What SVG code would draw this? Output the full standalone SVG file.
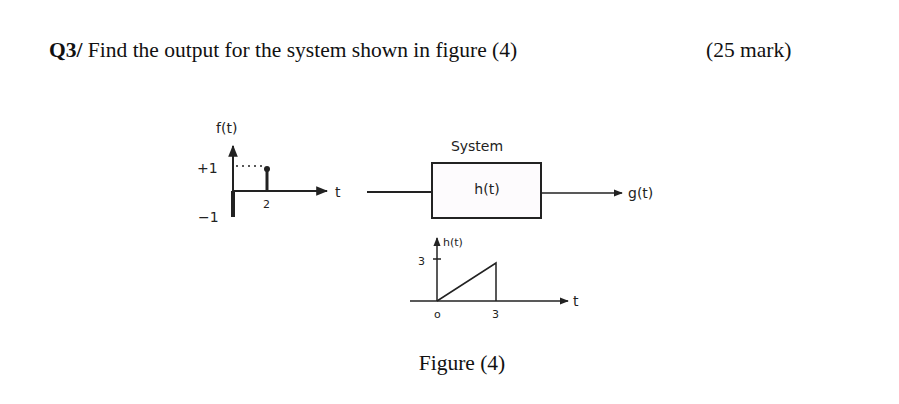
<svg xmlns="http://www.w3.org/2000/svg" width="899" height="404" viewBox="0 0 899 404">
<defs>
<style>
.t{font-family:"Liberation Serif",serif;font-size:21.5px;fill:#111}
.h{font-family:"DejaVu Sans",sans-serif;font-size:14px;fill:#222}
.s{font-family:"DejaVu Sans",sans-serif;font-size:11px;fill:#222}
.l{stroke:#222;stroke-width:2;fill:none}
</style>
<marker id="a" viewBox="0 0 10 10" refX="9" refY="5" markerWidth="6" markerHeight="6" orient="auto"><path d="M0,1L10,5L0,9z" fill="#222"/></marker>
</defs>
<rect width="899" height="404" fill="#fff"/>
<text class="t" x="49" y="57"><tspan font-weight="bold">Q3/</tspan> Find the output for the system shown in figure (4)</text>
<text class="t" x="706" y="57">(25 mark)</text>
<g id="ft">
<line class="l" x1="233" y1="217" x2="233" y2="146" marker-end="url(#a)"/>
<line class="l" x1="233" y1="191" x2="327" y2="191" marker-end="url(#a)"/>
<line x1="236" y1="166" x2="264" y2="166" stroke="#222" stroke-dasharray="2,4" stroke-width="1.5"/>
<line x1="267" y1="191" x2="267" y2="170" stroke="#222" stroke-width="3"/>
<circle cx="267" cy="169" r="3" fill="#222"/>
<line x1="233" y1="191" x2="233" y2="217" stroke="#222" stroke-width="4"/>
<text class="h" x="216" y="133">f(t)</text>
<text class="h" x="197" y="173">+1</text>
<text class="h" x="198" y="222">−1</text>
<text class="s" x="263" y="208">2</text>
<text class="h" x="335" y="197">t</text>
</g>
<g id="system">
<rect x="432" y="163" width="109" height="55" fill="#fdfbfd" stroke="#222" stroke-width="2"/>
<text class="h" x="487" y="194" text-anchor="middle">h(t)</text>
<text class="h" x="477" y="151" text-anchor="middle">System</text>
</g>
<g id="connectors">
<line class="l" x1="367" y1="192" x2="432" y2="192"/>
<line x1="541" y1="193" x2="622" y2="193" stroke="#222" stroke-width="1.5" marker-end="url(#a)"/>
</g>
<text class="h" x="628" y="198">g(t)</text>
<g id="ht">
<line x1="437" y1="301" x2="437" y2="238" stroke="#222" stroke-width="1.5" marker-end="url(#a)"/>
<line x1="410" y1="301" x2="568" y2="301" stroke="#222" stroke-width="1.5" marker-end="url(#a)"/>
<line x1="433" y1="259" x2="441" y2="259" stroke="#222" stroke-width="1.5"/>
<polyline points="437,301 496,263 496,301" fill="none" stroke="#222" stroke-width="1.5"/>
<text class="s" x="443" y="246">h(t)</text>
<text class="s" x="418" y="265">3</text>
<text class="s" x="434" y="318">o</text>
<text class="s" x="492" y="318">3</text>
<text class="h" x="573" y="306">t</text>
</g>
<text class="t" x="462" y="370" text-anchor="middle">Figure (4)</text>
</svg>
